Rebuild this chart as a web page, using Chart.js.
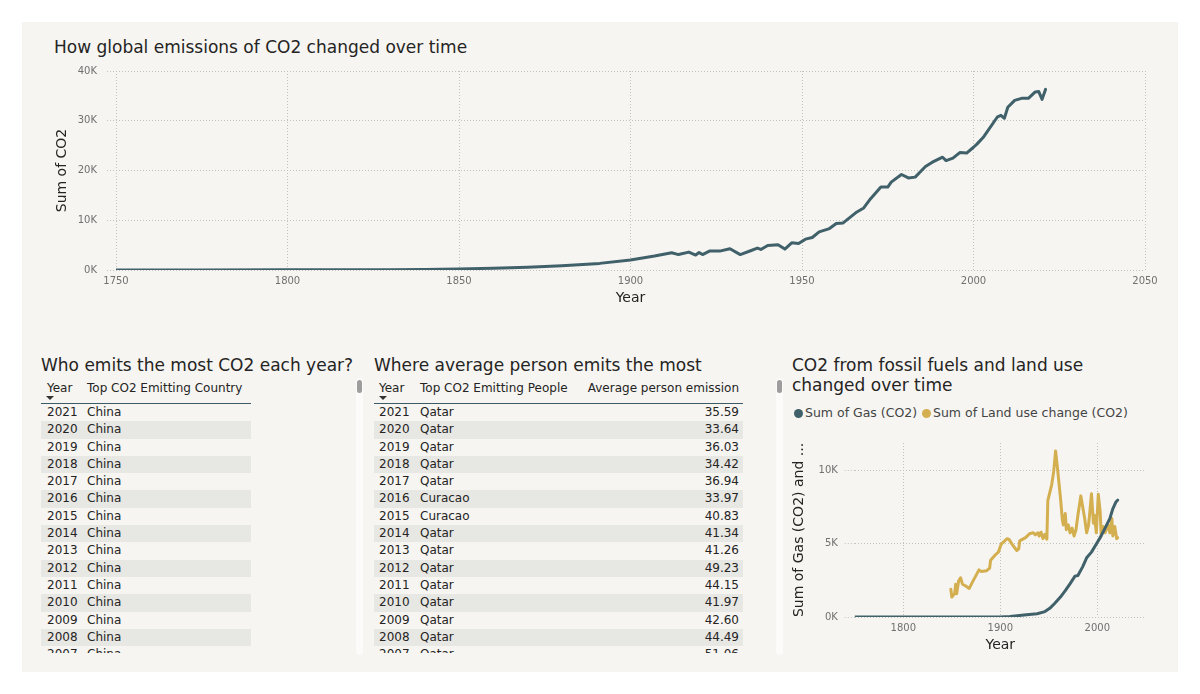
<!DOCTYPE html>
<html>
<head>
<meta charset="utf-8">
<script src="https://cdn.jsdelivr.net/npm/chart.js@4.4.0/dist/chart.umd.min.js"></script>
<style>
  body { margin: 0; width: 1200px; height: 694px; background: #fff; position: relative; overflow: hidden;
         font-family: "DejaVu Sans", Verdana, sans-serif; color: #252423; }
  #panel { position: absolute; left: 22px; top: 22px; width: 1156px; height: 650px; background: #f6f5f2; }
  .titulo { position: absolute; font-size: 17px; line-height: 20px; white-space: nowrap; color: #252423; }
  canvas { position: absolute; }
  .tabla { position: absolute; top: 379px; height: 274px; overflow: hidden; font-size: 12px; }
  .cab { position: relative; height: 24px; border-bottom: 1px solid #3d5a66; }
  .cab span, .fila span { position: absolute; white-space: nowrap; }
  .cab span { top: 1px; line-height: 16px; }
  .flecha { position: absolute; left: 5px; top: 17px; width: 0; height: 0;
            border-left: 4px solid transparent; border-right: 4px solid transparent; border-top: 4px solid #333; }
  .fila { position: relative; height: 17.3px; line-height: 17.6px; }
  .fila:nth-child(even) { background: #e7e7e3; }
  .barra { position: absolute; top: 378px; width: 7px; height: 277px; background: #fcfbf9; border-radius: 4px; }
  .barra div { position: absolute; left: 1px; top: 2px; width: 5px; height: 13px; background: #9d9d9d; border-radius: 3px; }
  .leyenda { position: absolute; top: 405px; font-size: 12.5px; line-height: 16px; color: #444; white-space: nowrap; }
  .punto { position: absolute; top: 3.5px; width: 9px; height: 9px; border-radius: 50%; }
</style>
</head>
<body>
<div id="panel"></div>

<div class="titulo" style="left:54px; top:37px;">How global emissions of CO2 changed over time</div>
<canvas id="graficoTotal" width="1125" height="260" style="left:40px; top:55px;"></canvas>

<div class="titulo" style="left:41px; top:355px;">Who emits the most CO2 each year?</div>
<div class="tabla" id="tablaPaises" style="left:41px; width:210px;"></div>
<div class="barra" style="left:356px;"><div></div></div>

<div class="titulo" style="left:374px; top:355px;">Where average person emits the most</div>
<div class="tabla" id="tablaPersonas" style="left:374px; width:369px;"></div>
<div class="barra" style="left:776px;"><div></div></div>

<div class="titulo" style="left:792px; top:355px;">CO2 from fossil fuels and land use<br>changed over time</div>
<div class="leyenda" id="leyenda" style="left:794px; width:370px;"></div>
<canvas id="graficoGas" width="380" height="230" style="left:785px; top:430px;"></canvas>

<script>
// Colores
const colorGas = '#40606a';
const colorTierra = '#d4af50';
const colorGrilla = '#c2c2bf';

// Grafico 1: suma de CO2 por año
const anios = [1750, 1775, 1800, 1820, 1830, 1840, 1850, 1860, 1870, 1880, 1891, 1900, 1907, 1912, 1914, 1917, 1919, 1920, 1921, 1923, 1926,
  1929, 1932, 1935, 1937, 1938, 1940, 1943, 1945, 1947, 1949, 1951, 1953, 1955, 1958, 1960, 1962, 1966, 1968, 1970, 1973, 1975, 1976,
  1979, 1981, 1983, 1985, 1986, 1988, 1991, 1992, 1994, 1996, 1998, 2000, 2001, 2003, 2007, 2008, 2009, 2010, 2012, 2014, 2016, 2018,
  2019, 2020, 2021];
const co2Total = [9, 15, 28, 45, 70, 110, 200, 370, 560, 860, 1330, 2000, 2800, 3470, 3100, 3600, 3000, 3500, 3100, 3800, 3800,
  4270, 3100, 3870, 4400, 4130, 4930, 5070, 4200, 5470, 5330, 6200, 6530, 7670, 8330, 9330, 9470, 11670, 12470, 14330, 16670, 16670, 17670,
  19200, 18500, 18670, 20100, 20800, 21670, 22670, 22000, 22500, 23600, 23500, 24670, 25300, 26800, 30800, 31100, 30500, 32700, 34100, 34500, 34500, 35800,
  35900, 34300, 36300];
const ticksAnio1 = [1750, 1800, 1850, 1900, 1950, 2000, 2050];
const ticksCo2 = [0, 10000, 20000, 30000, 40000];
const etiquetasCo2 = ['0K', '10K', '20K', '30K', '40K'];

// Grafico 2: gas y cambio de uso de suelo
const aniosGas = [1750, 1900, 1910, 1927, 1938, 1946, 1951, 1956, 1962, 1967, 1972, 1977, 1980, 1985, 1989, 1994, 1999, 2003, 2008, 2013, 2016, 2019, 2021];
const gas = [0, 0, 40, 150, 220, 370, 590, 920, 1360, 1800, 2280, 2790, 2830, 3440, 4040, 4430, 4980, 5420, 6070, 6730, 7390, 7830, 7980];
const aniosTierra = [1849, 1850, 1853, 1854, 1855, 1857, 1859, 1861, 1864, 1868, 1871, 1878, 1880, 1886, 1889, 1890, 1895, 1898, 1901, 1907,
  1909, 1912, 1917, 1919, 1920, 1926, 1930, 1934, 1936, 1939, 1940, 1942, 1944, 1946, 1948, 1949, 1953, 1955, 1957, 1959, 1962, 1964,
  1965, 1967, 1968, 1970, 1972, 1974, 1976, 1978, 1980, 1983, 1985, 1987, 1989, 1991, 1992, 1994, 1996, 1997, 1999, 2001, 2003, 2004,
  2006, 2008, 2011, 2013, 2015, 2016, 2018, 2020, 2021];
const tierra = [1900, 1360, 1620, 2240, 1580, 2460, 2680, 2240, 2130, 1950, 2350, 3220, 3110, 3160, 3330, 3880, 4250, 4430, 4980, 5350,
  5300, 4980, 4540, 4650, 5200, 5420, 5680, 5750, 5610, 5750, 5530, 5790, 5350, 5640, 5310, 7940, 9040, 9910, 11340, 10130, 8160, 6620,
  6290, 7060, 5960, 6290, 5750, 6070, 5530, 5960, 6950, 8270, 7500, 6730, 5750, 6290, 6950, 8420, 6400, 6950, 5750, 8380, 7170, 5530,
  6180, 5750, 6290, 5750, 6730, 5530, 6180, 5350, 5420];
const ticksAnio2 = [1800, 1900, 2000];
const ticksGas = [0, 5000, 10000];
const etiquetasGas = ['0K', '5K', '10K'];

// Tablas
const aniosTabla = [2021, 2020, 2019, 2018, 2017, 2016, 2015, 2014, 2013, 2012, 2011, 2010, 2009, 2008, 2007];
const paises = ['China', 'China', 'China', 'China', 'China', 'China', 'China', 'China', 'China', 'China', 'China', 'China', 'China', 'China', 'China'];
const personas = ['Qatar', 'Qatar', 'Qatar', 'Qatar', 'Qatar', 'Curacao', 'Curacao', 'Qatar', 'Qatar', 'Qatar', 'Qatar', 'Qatar', 'Qatar', 'Qatar', 'Qatar'];
const emisionPersona = ['35.59', '33.64', '36.03', '34.42', '36.94', '33.97', '40.83', '41.34', '41.26', '49.23', '44.15', '41.97', '42.60', '44.49', '51.06'];

Chart.defaults.font.family = '"DejaVu Sans", Verdana, sans-serif';
Chart.defaults.color = '#666';

function puntos(xs, ys) {
    return xs.map((x, i) => ({ x: x, y: ys[i] }));
}

function ejeY(ancho, ticks, etiquetas, max, titulo, padTitulo, largoTick, padTick) {
    return {
        min: 0, max: max,
        afterFit: s => { s.width = ancho; },
        afterBuildTicks: s => { s.ticks = ticks.map(v => ({ value: v })); },
        ticks: { font: { size: 10 }, color: '#707070', padding: padTick, callback: (v, i) => etiquetas[i] },
        grid: { color: colorGrilla, tickColor: colorGrilla, tickLength: largoTick, tickBorderDash: [1, 2] },
        border: { display: false, dash: [1, 2] },
        title: { display: true, text: titulo, color: '#252423', font: { size: 14 }, padding: { top: padTitulo, bottom: 0 } }
    };
}

function ejeX(alto, ticks, padTitulo) {
    return {
        type: 'linear', min: 1750, max: 2050,
        afterFit: s => { s.height = alto; },
        afterBuildTicks: s => { s.ticks = ticks.map(v => ({ value: v })); },
        ticks: { font: { size: 10 }, color: '#707070', padding: 5, callback: v => String(v) },
        grid: { color: colorGrilla, drawTicks: false },
        border: { display: false, dash: [1, 2] },
        title: { display: true, text: 'Year', color: '#252423', font: { size: 14 }, padding: { top: 2, bottom: padTitulo } }
    };
}

const linea = { borderWidth: 3, pointRadius: 0, tension: 0, borderJoinStyle: 'round', borderCapStyle: 'round', fill: false };

// Grafico de emisiones globales
new Chart(document.getElementById('graficoTotal'), {
    type: 'line',
    data: {
        datasets: [Object.assign({ label: 'Sum of CO2', data: puntos(anios, co2Total), borderColor: colorGas }, linea)]
    },
    options: {
        responsive: false, animation: false,
        layout: { padding: { top: 15, right: 20, left: 0, bottom: 0 } },
        plugins: { legend: { display: false }, tooltip: { enabled: false } },
        scales: {
            x: ejeX(45, ticksAnio1, 8.6),
            y: ejeY(76, ticksCo2, etiquetasCo2, 40000, 'Sum of CO2', 13.6, 9, 10)
        }
    }
});

// Grafico de gas y uso de suelo
new Chart(document.getElementById('graficoGas'), {
    type: 'line',
    data: {
        datasets: [
            Object.assign({ label: 'Sum of Gas (CO2)', data: puntos(aniosGas, gas), borderColor: colorGas }, linea),
            Object.assign({ label: 'Sum of Land use change (CO2)', data: puntos(aniosTierra, tierra), borderColor: colorTierra }, linea)
        ]
    },
    options: {
        responsive: false, animation: false,
        layout: { padding: { top: 7.3, right: 19.2, left: 0, bottom: 0 } },
        plugins: { legend: { display: false }, tooltip: { enabled: false } },
        scales: {
            x: ejeX(43, ticksAnio2, 6.6),
            y: ejeY(69.8, ticksGas, etiquetasGas, 11880, 'Sum of Gas (CO2) and ...', 5.9, 10, 7)
        }
    }
});

// Leyenda
document.getElementById('leyenda').innerHTML =
    '<span class="punto" style="left:0; background:' + colorGas + '"></span>' +
    '<span style="position:absolute; left:11px;">Sum of Gas (CO2)</span>' +
    '<span class="punto" style="left:128px; background:' + colorTierra + '"></span>' +
    '<span style="position:absolute; left:139px;">Sum of Land use change (CO2)</span>';

// Tablas
function armarTabla(id, columnas, filas) {
    let html = '<div class="cab">';
    columnas.forEach(c => {
        html += '<span style="' + c.pos + '">' + c.texto + '</span>';
    });
    html += '<div class="flecha"></div></div><div>';
    filas.forEach(f => {
        html += '<div class="fila">';
        f.forEach((v, j) => { html += '<span style="' + columnas[j].pos + '">' + v + '</span>'; });
        html += '</div>';
    });
    html += '</div>';
    document.getElementById(id).innerHTML = html;
}

armarTabla('tablaPaises',
    [{ texto: 'Year', pos: 'left:6px' }, { texto: 'Top CO2 Emitting Country', pos: 'left:46px' }],
    aniosTabla.map((a, i) => [a, paises[i]]));

armarTabla('tablaPersonas',
    [{ texto: 'Year', pos: 'left:5px' }, { texto: 'Top CO2 Emitting People', pos: 'left:46px' },
     { texto: 'Average person emission', pos: 'right:4px' }],
    aniosTabla.map((a, i) => [a, personas[i], emisionPersona[i]]));
</script>
</body>
</html>
